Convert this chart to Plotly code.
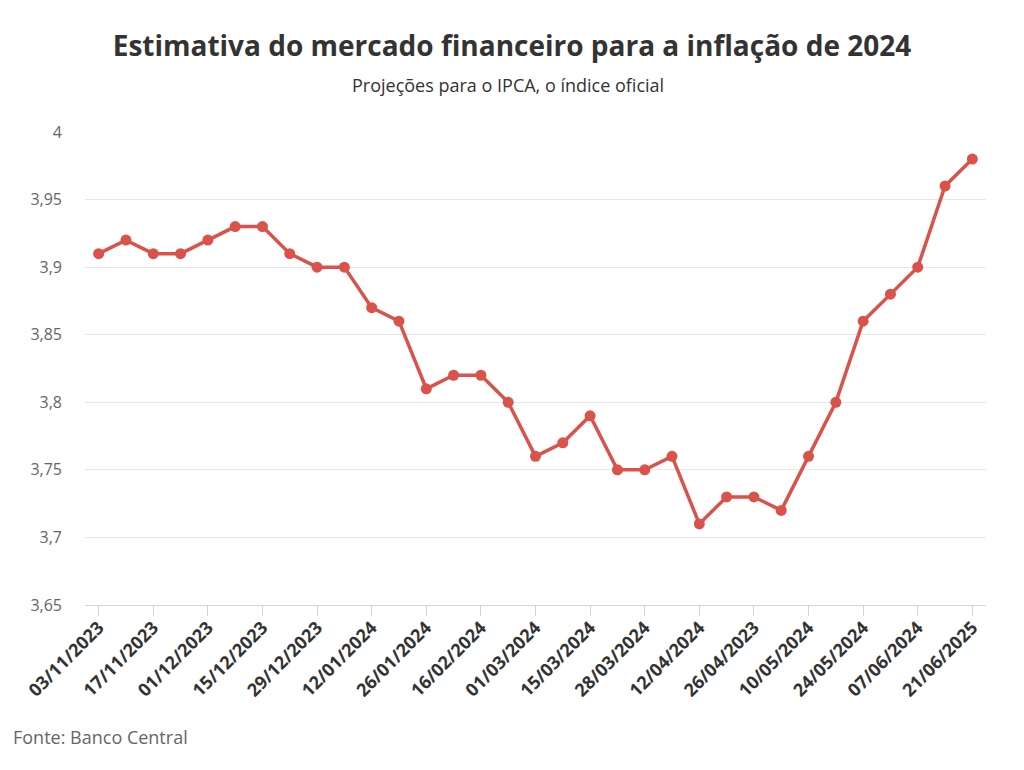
import plotly.graph_objects as go

dates = ["03/11/2023", "10/11/2023", "17/11/2023", "24/11/2023", "01/12/2023",
         "08/12/2023", "15/12/2023", "22/12/2023", "29/12/2023", "05/01/2024",
         "12/01/2024", "19/01/2024", "26/01/2024", "09/02/2024", "16/02/2024",
         "23/02/2024", "01/03/2024", "08/03/2024", "15/03/2024", "22/03/2024",
         "28/03/2024", "05/04/2024", "12/04/2024", "19/04/2024", "26/04/2023",
         "03/05/2024", "10/05/2024", "17/05/2024", "24/05/2024", "31/05/2024",
         "07/06/2024", "14/06/2024", "21/06/2025"]
ipca = [3.91, 3.92, 3.91, 3.91, 3.92, 3.93, 3.93, 3.91, 3.90, 3.90,
        3.87, 3.86, 3.81, 3.82, 3.82, 3.80, 3.76, 3.77, 3.79, 3.75,
        3.75, 3.76, 3.71, 3.73, 3.73, 3.72, 3.76, 3.80, 3.86, 3.88,
        3.90, 3.96, 3.98]
tick_labels = dates[::2]
y_ticks = [3.65, 3.70, 3.75, 3.80, 3.85, 3.90, 3.95, 4.00]
y_tick_text = ["3,65", "3,7", "3,75", "3,8", "3,85", "3,9", "3,95", "4"]

L, R, T, B = 85, 38, 132, 165
W, H = 1024, 770
pw = W - L - R
ph = H - T - B

fig = go.Figure()
fig.add_trace(go.Scatter(
    x=dates, y=ipca, mode="lines+markers",
    line=dict(color="#d9534a", width=3.5),
    marker=dict(color="#d9534a", size=11),
    hovertemplate="%{x}<br>%{y:.2f}<extra></extra>",
))

fig.update_layout(
    width=W, height=H,
    margin=dict(l=L, r=R, t=T, b=B),
    paper_bgcolor="white", plot_bgcolor="white",
    font=dict(family="Open Sans", color="#333333"),
    showlegend=False,
    title=dict(
        text="<b>Estimativa do mercado financeiro para a inflação de 2024</b>",
        xref="container", x=0.5, xanchor="center",
        yref="container", y=1 - 46 / H, yanchor="middle",
        font=dict(family="Open Sans", size=28, color="#333333"),
    ),
    annotations=[
        dict(text="Projeções para o IPCA, o índice oficial", xref="paper", yref="paper",
             x=(508 - L) / pw, xanchor="center", y=1 + (T - 85) / ph, yanchor="middle",
             showarrow=False, font=dict(family="Open Sans", size=18, color="#333333")),
        dict(text="Fonte: Banco Central", xref="paper", yref="paper",
             x=(11 - L) / pw, xanchor="left", y=-(737 - (H - B)) / ph, yanchor="middle",
             showarrow=False, font=dict(family="Open Sans", size=18, color="#666666")),
    ],
    xaxis=dict(
        type="category", range=[-0.5, len(dates) - 0.5],
        tickmode="array", tickvals=tick_labels, ticktext=tick_labels,
        tickangle=-45, ticks="outside", ticklen=10, tickcolor="#ccd6eb", tickwidth=1,
        showline=True, linecolor="#ccd6eb", linewidth=1,
        showgrid=False, zeroline=False, ticklabelstandoff=-6,
        tickfont=dict(family="Open Sans", size=18, color="#333333", weight="bold"),
    ),
    yaxis=dict(
        range=[3.65, 4.0], tickmode="array", tickvals=y_ticks, ticktext=y_tick_text,
        showgrid=True, gridcolor="#e6e6e6", gridwidth=1, zeroline=False,
        ticks="", ticklabelstandoff=22,
        tickfont=dict(family="Open Sans", size=16, color="#666666"),
    ),
)

fig.write_html("out.html")
